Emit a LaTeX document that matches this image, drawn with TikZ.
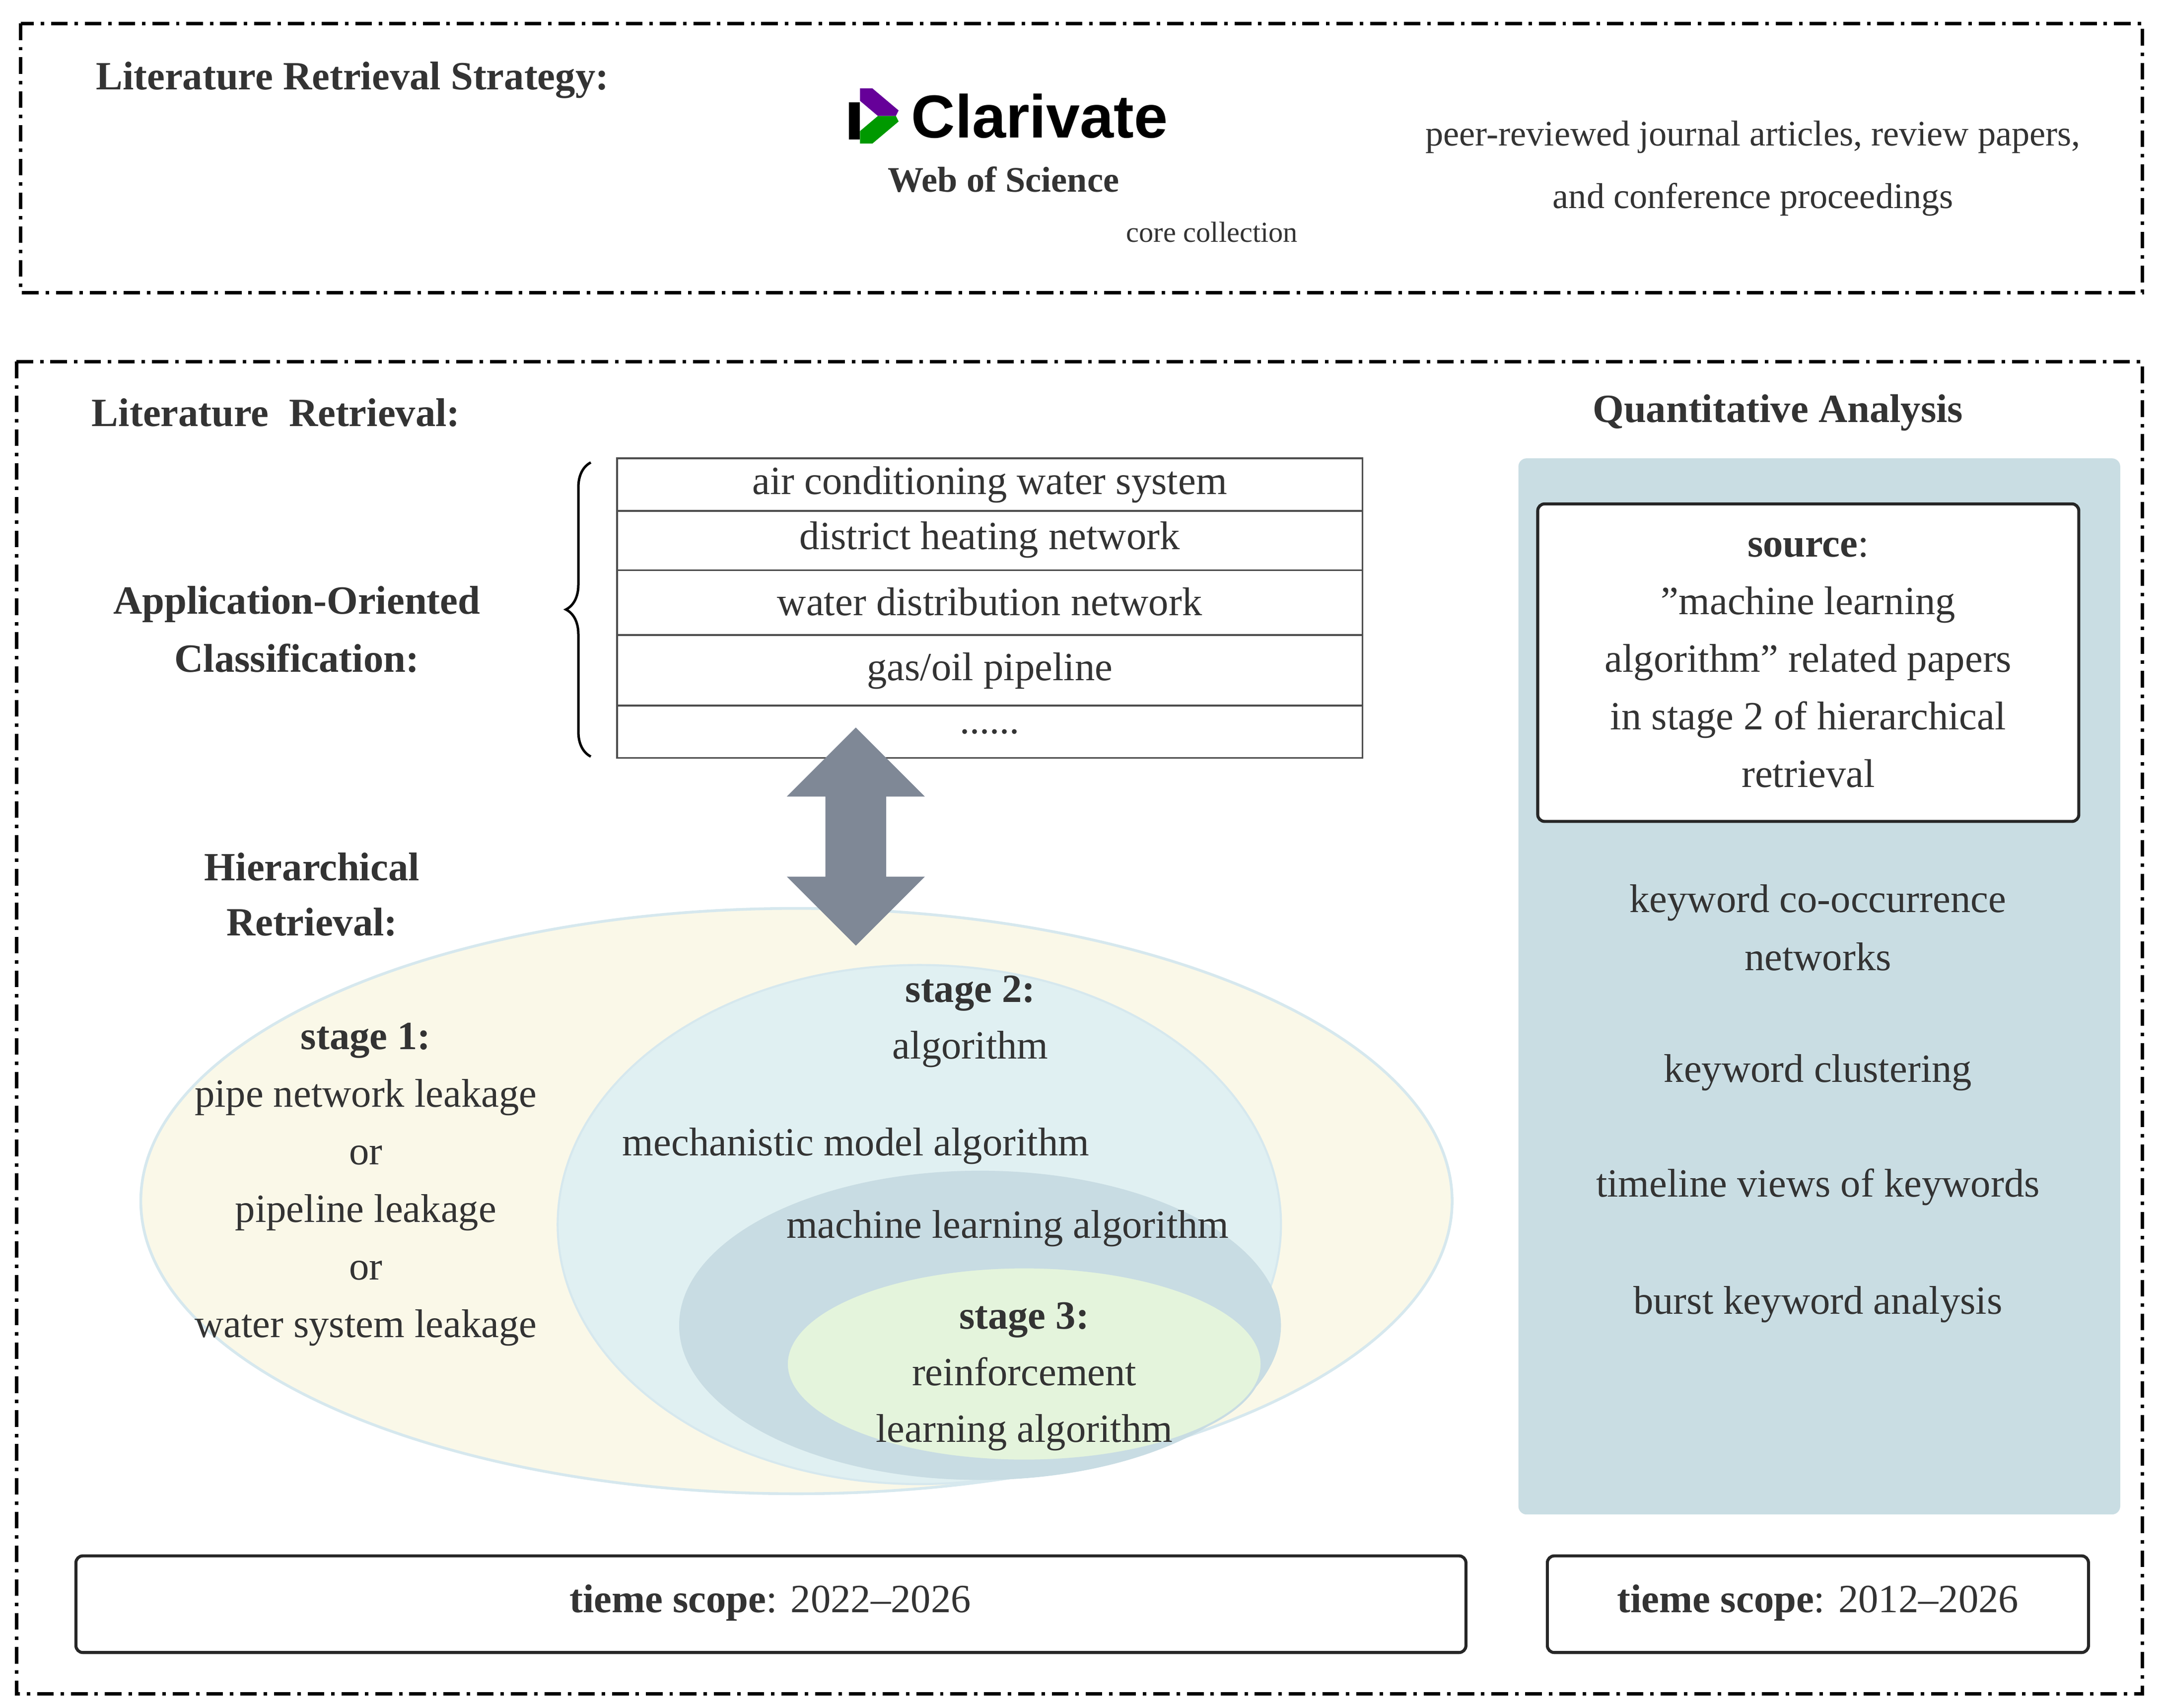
\documentclass[tikz,border=0pt]{standalone}
\usepackage{fontspec}
\setmainfont{Liberation Serif}
\newfontfamily\logofont{Liberation Sans}
\usetikzlibrary{decorations.pathreplacing,shapes.geometric}
\definecolor{txt}{HTML}{333333}
\definecolor{arrowgray}{HTML}{7F8896}
\definecolor{outerfill}{HTML}{FAF8E8}
\definecolor{s2fill}{HTML}{E0F0F2}
\definecolor{mlfill}{HTML}{C8DCE3}
\definecolor{s3fill}{HTML}{E4F4DC}
\definecolor{edgeblue}{HTML}{D6E8EE}
\definecolor{panel}{HTML}{C9DDE3}
\tikzset{
  frame/.style={line width=2.5pt, dash pattern=on 12pt off 5pt on 2.5pt off 5pt},
  body/.style={font=\fontsize{29}{34}\selectfont, text=txt, align=center},
  head/.style={font=\fontsize{29}{34}\selectfont\bfseries, text=txt, align=center},
  rowbox/.style={draw=black!70, line width=1.3pt},
  tbox/.style={draw=black!85, line width=2.2pt, rounded corners=5pt, fill=white},
}
\begin{document}
\begin{tikzpicture}[x=1pt,y=-1pt]
\useasboundingbox (0,0) rectangle (1567,1237);
% top frame
\draw[frame] (15,17) rectangle (1552,212);
\node[head, anchor=west] (t1) at (66,58) {Literature Retrieval Strategy:};
% logo
\fill[black] (615,74) rectangle (623,101);
\fill[violet!80!blue] (623,64) -- (632,64) -- (651,80) -- (649,84) -- (636,84) -- (623,73) -- cycle;
\fill[green!60!black] (623,104) -- (632,104) -- (651,88) -- (649,84) -- (636,84) -- (623,95) -- cycle;
\node[font=\logofont\fontsize{44}{48}\selectfont\bfseries, anchor=west, inner sep=0] (clar) at (660,84) {Clarivate};
\node[head, font=\fontsize{26}{30}\selectfont\bfseries] (wos) at (727,130) {Web of Science};
\node[body, font=\fontsize{21}{25}\selectfont] (cc) at (878,168) {core collection};
\node[body, font=\fontsize{26}{45}\selectfont] (types) at (1270,122) {peer-reviewed journal articles, review papers,\\and conference proceedings};
% bottom frame
\draw[frame] (12,262) rectangle (1552,1227);
\node[head, anchor=west] (t2) at (63,299) {Literature\ \ Retrieval:};
\node[head] (t3) at (1288,299) {Quantitative Analysis};
% table
\draw[rowbox] (447,332) rectangle (987,370);
\draw[rowbox] (447,370) rectangle (987,413);
\draw[rowbox] (447,413) rectangle (987,460);
\draw[rowbox] (447,460) rectangle (987,511);
\draw[rowbox] (447,511) rectangle (987,549);
\node[body] (row1) at (717,351) {air conditioning water system};
\node[body] (row2) at (717,391) {district heating network};
\node[body] (row3) at (717,436) {water distribution network};
\node[body] (row4) at (717,486) {gas/oil pipeline};
\node[body] (row5) at (717,530) {......};
\draw[line width=1.8pt, decoration={brace,amplitude=18pt}, decorate] (428,548) -- (428,335);
\node[head, font=\fontsize{29}{42}\selectfont\bfseries] (aoc) at (215,456) {Application-Oriented\\Classification:};
% ellipses
\node[ellipse, fill=outerfill, draw=edgeblue, line width=2pt, minimum width=950pt, minimum height=424pt] (e1) at (577,870) {};
\node[ellipse, fill=s2fill, draw=edgeblue, line width=1.5pt, minimum width=524pt, minimum height=376pt] (e2) at (666,887) {};
\node[ellipse, fill=mlfill, draw=none, minimum width=436pt, minimum height=224pt] (e3) at (710,960) {};
\node[ellipse, fill=s3fill, draw=mlfill, line width=1.5pt, minimum width=344pt, minimum height=140pt] (e4) at (742,988) {};
% double arrow
\fill[arrowgray] (620,527) -- (670,577) -- (642,577) -- (642,635) -- (670,635) -- (620,685) -- (570,635) -- (598,635) -- (598,577) -- (570,577) -- cycle;
\node[head, font=\fontsize{29}{40}\selectfont\bfseries] (hr) at (226,648) {Hierarchical\\Retrieval:};
\node[body, font=\fontsize{29}{41.7}\selectfont] (s1) at (265,858) {\textbf{stage 1:}\\pipe network leakage\\or\\pipeline leakage\\or\\water system leakage};
\node[body, font=\fontsize{29}{41}\selectfont] (s2) at (703,740) {\textbf{stage 2:}\\algorithm};
\node[body] (mech) at (620,830) {mechanistic model algorithm};
\node[body] (ml) at (730,890) {machine learning algorithm};
\node[body, font=\fontsize{29}{41}\selectfont] (s3) at (742,997) {\textbf{stage 3:}\\reinforcement\\learning algorithm};
% right panel
\fill[panel, rounded corners=6pt] (1100,332) rectangle (1536,1097);
\draw[tbox] (1114,365) rectangle (1506,595);
\node[body, font=\fontsize{29}{41.7}\selectfont] (src) at (1310,480) {\textbf{source}:\\"machine learning\\algorithm" related papers\\in stage 2 of hierarchical\\retrieval};
\node[body, font=\fontsize{29}{42}\selectfont] (q1) at (1317,672) {keyword co-occurrence\\networks};
\node[body] (q2) at (1317,777) {keyword clustering};
\node[body] (q3) at (1317,860) {timeline views of keywords};
\node[body] (q4) at (1317,945) {burst keyword analysis};
% time scopes
\draw[tbox] (55,1127) rectangle (1062,1197);
\node[body] (ts1) at (558,1161) {\textbf{tieme scope}: 2022--2026};
\draw[tbox] (1121,1127) rectangle (1513,1197);
\node[body] (ts2) at (1317,1161) {\textbf{tieme scope}: 2012--2026};
\end{tikzpicture}
\end{document}
